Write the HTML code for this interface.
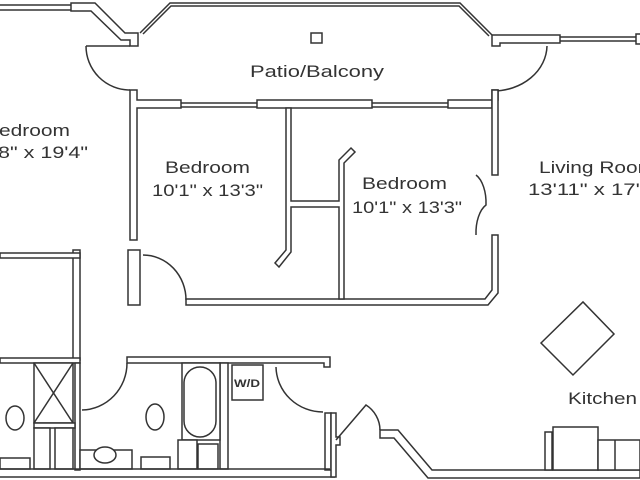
<!DOCTYPE html>
<html><head><meta charset="utf-8"><style>
html,body{margin:0;padding:0;background:#fff;}
svg{display:block}
text{font-family:"Liberation Sans",sans-serif;fill:#333;font-size:17px}
</style></head><body>
<svg width="640" height="480" viewBox="0 0 640 480" xmlns="http://www.w3.org/2000/svg">
<g fill="#fff" stroke="#333" stroke-width="1.5">
<line x1="0" y1="5" x2="71" y2="5"/><line x1="0" y1="10" x2="71" y2="10"/>
<polygon points="71,3 95,3 125,33 138,33 138,46 130,46 130,40 121,40 91,11 71,11"/>
<polyline fill="none" points="140,33 170,3 460,3 492,35"/>
<polyline fill="none" points="143,34 171,6 459,6 489,36"/>
<polygon points="492,35 560,35 560,43 500,43 500,46 492,46"/>
<line x1="560" y1="37" x2="636" y2="37"/><line x1="560" y1="41" x2="636" y2="41"/>
<rect x="636" y="34" width="6" height="10"/>
<rect x="311" y="33" width="11" height="10"/>
<line x1="86" y1="46" x2="130" y2="46"/>
<path d="M86,46 A44,44 0 0 0 130,90" fill="none"/>
<path d="M547,46 A54,46 0 0 1 493,91" fill="none"/>
<polygon points="130,90 137,90 137,100 181,100 181,108 137,108 137,240 130,240"/>
<polygon points="128,250 140,250 140,305 128,305"/>
<line x1="181" y1="103" x2="257" y2="103"/><line x1="181" y1="107" x2="257" y2="107"/>
<rect x="257" y="100" width="115" height="8"/>
<line x1="372" y1="103" x2="448" y2="103"/><line x1="372" y1="107" x2="448" y2="107"/>
<polygon points="448,100 498,100 498,90 492,90 492,108 448,108" />
<rect x="492" y="90" width="6" height="85"/>
<polygon points="492,235 498,235 498,293 488,305 186,305 186,299 485,299 492,290"/>
<path d="M143,255 A43,45 0 0 1 186,300" fill="none"/>
<polygon points="286,108 291,108 291,201 339,201 339,160 351,148 355,152 344,163 344,299 339,299 339,207 291,207 291,252 279,267 275,263 286,250"/>
<path d="M476,175 A16,30 0 0 1 486,205 A16,30 0 0 0 476,235" fill="none"/>
<rect x="73" y="250" width="7" height="110"/>
<rect x="0" y="253" width="80" height="5"/>
<rect x="0" y="358" width="80" height="5"/>
<rect x="75" y="363" width="5" height="107"/>
<polygon points="127,357 330,357 330,367 324,367 324,363 127,363"/>
<rect x="220" y="363" width="8" height="106"/>
<rect x="325" y="413" width="6" height="57"/>
<path d="M82,410 A46,47 0 0 0 127,363" fill="none"/>
<path d="M276,367 A47,46 0 0 0 323,412" fill="none"/>
<rect x="182" y="363" width="38" height="77"/>
<rect x="184" y="367" width="32" height="70" rx="16"/>
<rect x="178" y="440" width="19" height="29"/>
<rect x="198" y="444" width="20" height="25"/>
<rect x="80" y="450" width="52" height="19"/>
<ellipse cx="105" cy="455" rx="11" ry="8"/>
<ellipse cx="155" cy="417" rx="9" ry="13"/>
<rect x="141" y="457" width="29" height="12"/>
<rect x="34" y="363" width="39" height="60"/>
<line x1="34" y1="363" x2="73" y2="423"/><line x1="73" y1="363" x2="34" y2="423"/>
<rect x="34" y="423" width="41" height="5"/>
<rect x="34" y="428" width="16" height="41"/>
<rect x="55" y="428" width="18" height="41"/>
<ellipse cx="15" cy="418" rx="9" ry="12"/>
<rect x="0" y="458" width="30" height="11"/>
<line x1="0" y1="469" x2="330" y2="469"/>
<line x1="0" y1="477" x2="335" y2="477"/>
<rect x="232" y="365" width="31" height="35"/>
<polygon points="331,413 336,413 336,437 340,437 340,445 336,445 336,477 331,477"/>
<path d="M336,440 L366,405 A30,30 0 0 1 380,430" fill="none"/>
<polygon points="380,430 398,430 432,470 640,470 640,478 428,478 394,438 380,438"/>
<rect x="545" y="432" width="7" height="38"/>
<rect x="553" y="427" width="45" height="43"/>
<rect x="598" y="440" width="42" height="30"/>
<line x1="615" y1="440" x2="615" y2="470"/>
<polygon points="541,343 583,302 614,334 573,375"/>
</g>
<g stroke="none">
<text x="250" y="77" textLength="134" lengthAdjust="spacingAndGlyphs">Patio/Balcony</text>
<text x="-15" y="136" textLength="85" lengthAdjust="spacingAndGlyphs">Bedroom</text>
<text x="-30" y="158" textLength="118" lengthAdjust="spacingAndGlyphs">13'8" x 19'4"</text>
<text x="165" y="173" textLength="85" lengthAdjust="spacingAndGlyphs">Bedroom</text>
<text x="152" y="196" textLength="111" lengthAdjust="spacingAndGlyphs">10'1" x 13'3"</text>
<text x="362" y="189" textLength="85" lengthAdjust="spacingAndGlyphs">Bedroom</text>
<text x="352" y="213" textLength="110" lengthAdjust="spacingAndGlyphs">10'1" x 13'3"</text>
<text x="539" y="173" textLength="116" lengthAdjust="spacingAndGlyphs">Living Room</text>
<text x="528" y="195" textLength="132" lengthAdjust="spacingAndGlyphs">13'11" x 17'1"</text>
<text x="568" y="404" textLength="69" lengthAdjust="spacingAndGlyphs">Kitchen</text>
<text x="234" y="387" style="font-size:11px;font-weight:bold" textLength="26" lengthAdjust="spacingAndGlyphs">W/D</text>
</g>
</svg>
</body></html>
